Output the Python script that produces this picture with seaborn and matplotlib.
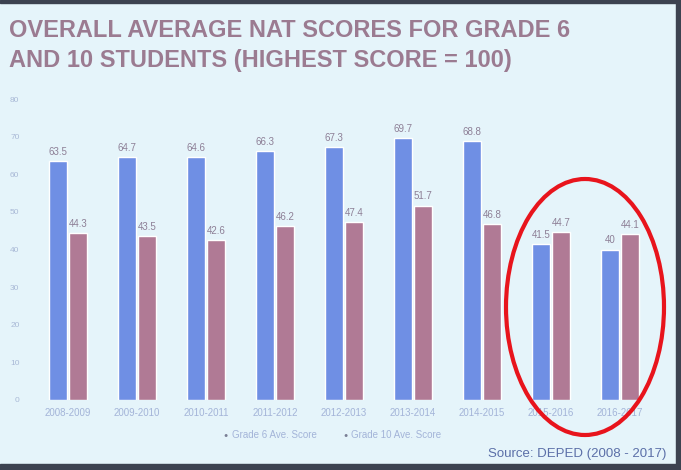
import matplotlib
matplotlib.use("Agg")
import matplotlib.pyplot as plt
from matplotlib.patches import Ellipse, Rectangle
import seaborn as sns
import pandas as pd

years = ["2008-2009", "2009-2010", "2010-2011", "2011-2012", "2012-2013",
         "2013-2014", "2014-2015", "2015-2016", "2016-2017"]
grade6 = [63.5, 64.7, 64.6, 66.3, 67.3, 69.7, 68.8, 41.5, 40.0]
grade10 = [44.3, 43.5, 42.6, 46.2, 47.4, 51.7, 46.8, 44.7, 44.1]
series = ["Grade 6 Ave. Score", "Grade 10 Ave. Score"]

df = pd.DataFrame({
    "year": years * 2,
    "score": grade6 + grade10,
    "series": [series[0]] * len(years) + [series[1]] * len(years),
})

sns.set_theme(style="white")
plt.rcParams['font.family'] = ['Liberation Sans', 'DejaVu Sans']

bg = "#e5f4fa"
fig = plt.figure(figsize=(6.81, 4.70), dpi=100, facecolor=bg)
ax = fig.add_axes([0.049, 0.149, 0.912, 0.640])
ax.set_facecolor(bg)

sns.barplot(data=df, x="year", y="score", hue="series", ax=ax,
            palette=["#6f8fe4", "#b07a95"], width=0.58, gap=0.12,
            saturation=1, legend=False)

for cont, vals in zip(ax.containers, [grade6, grade10]):
    ax.bar_label(cont, labels=[f"{v:g}" for v in vals], padding=3,
                 fontsize=7, color="#8d7f96")

ax.set_ylim(0, 80)
ax.set_xlim(-0.5, 8.5)
ax.set_yticks(range(0, 81, 10))
ax.tick_params(axis="y", labelsize=6, colors="#a9b9d6", length=0, pad=10)
ax.tick_params(axis="x", labelsize=7, colors="#a3b4d8", length=0, pad=6)
ax.set_xlabel("")
ax.set_ylabel("")
for s in ax.spines.values():
    s.set_visible(False)

# legend
fig.text(0.328, 0.074, "\u25cf", fontsize=5, color="#7a7f95", va="center")
fig.text(0.340, 0.074, series[0], fontsize=7, color="#a3b4d8", va="center")
fig.text(0.504, 0.074, "\u25cf", fontsize=5, color="#7a7f95", va="center")
fig.text(0.516, 0.074, series[1], fontsize=7, color="#a3b4d8", va="center")

# title
fig.text(0.013, 0.936, "OVERALL AVERAGE NAT SCORES FOR GRADE 6",
         fontsize=17, fontweight="bold", color="#9b7b91", va="center")
fig.text(0.013, 0.872, "AND 10 STUDENTS (HIGHEST SCORE = 100)",
         fontsize=17, fontweight="bold", color="#9b7b91", va="center")

# source
fig.text(0.978, 0.034, "Source: DEPED (2008 - 2017)", fontsize=9.5,
         color="#5b6fa8", va="center", ha="right")

# screen edges
fig.patches.append(Rectangle((0, 0), 1, 0.012, transform=fig.transFigure,
                             color="#3c4250", zorder=5))
fig.patches.append(Rectangle((0.992, 0), 0.008, 1, transform=fig.transFigure,
                             color="#3c4250", zorder=5))
fig.patches.append(Rectangle((0, 0.994), 1, 0.006, transform=fig.transFigure,
                             color="#3c4250", zorder=5))

# red ellipse annotation
fig.patches.append(Ellipse((585 / 681, 1 - 307 / 470), 158 / 681, 256 / 470,
                           transform=fig.transFigure, fill=False,
                           edgecolor="#e8141c", linewidth=3, zorder=6))

fig.savefig("out.png", dpi=100, facecolor=bg)
